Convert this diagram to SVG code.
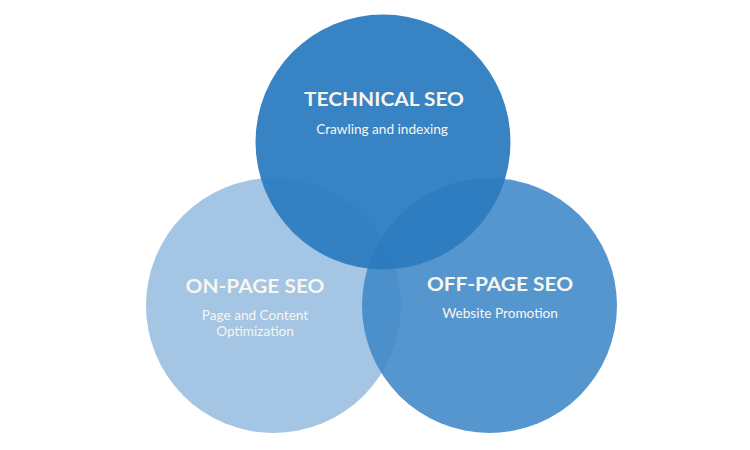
<svg xmlns="http://www.w3.org/2000/svg" width="750" height="450" viewBox="0 0 750 450">
<style>
.t{font-family:Lato,"Open Sans","Liberation Sans",sans-serif;fill:#f7f6ef;text-anchor:middle}
.h{font-weight:700;font-size:18px}
.s{font-size:12.5px}
</style>
<rect width="750" height="450" fill="#ffffff"/>
<g id="on-page">
<circle cx="273.5" cy="305.5" r="127.5" fill="#a4c5e3"/>
</g>
<g id="off-page">
<circle cx="489.5" cy="305.5" r="127.5" fill="#3f88c7" fill-opacity="0.88"/>
</g>
<g id="technical">
<circle cx="383" cy="142" r="127.5" fill="#2c7bc0" fill-opacity="0.94"/>
</g>
<g id="labels">
<g transform="translate(384,0) scale(1.16,1)"><text class="t h" x="0" y="106.5">TECHNICAL SEO</text></g>
<g transform="translate(382,0) scale(1.09,1)"><text class="t s" x="0" y="134.5">Crawling and indexing</text></g>
<g transform="translate(255,0) scale(1.16,1)"><text class="t h" x="0" y="293">ON-PAGE SEO</text></g>
<g transform="translate(255,0) scale(1.09,1)"><text class="t s" x="0" y="320">Page and Content</text></g>
<g transform="translate(255,0) scale(1.09,1)"><text class="t s" x="0" y="336">Optimization</text></g>
<g transform="translate(500,0) scale(1.16,1)"><text class="t h" x="0" y="291">OFF-PAGE SEO</text></g>
<g transform="translate(500,0) scale(1.09,1)"><text class="t s" x="0" y="318">Website Promotion</text></g>
</g>
<g id="connectors"/>
</svg>
